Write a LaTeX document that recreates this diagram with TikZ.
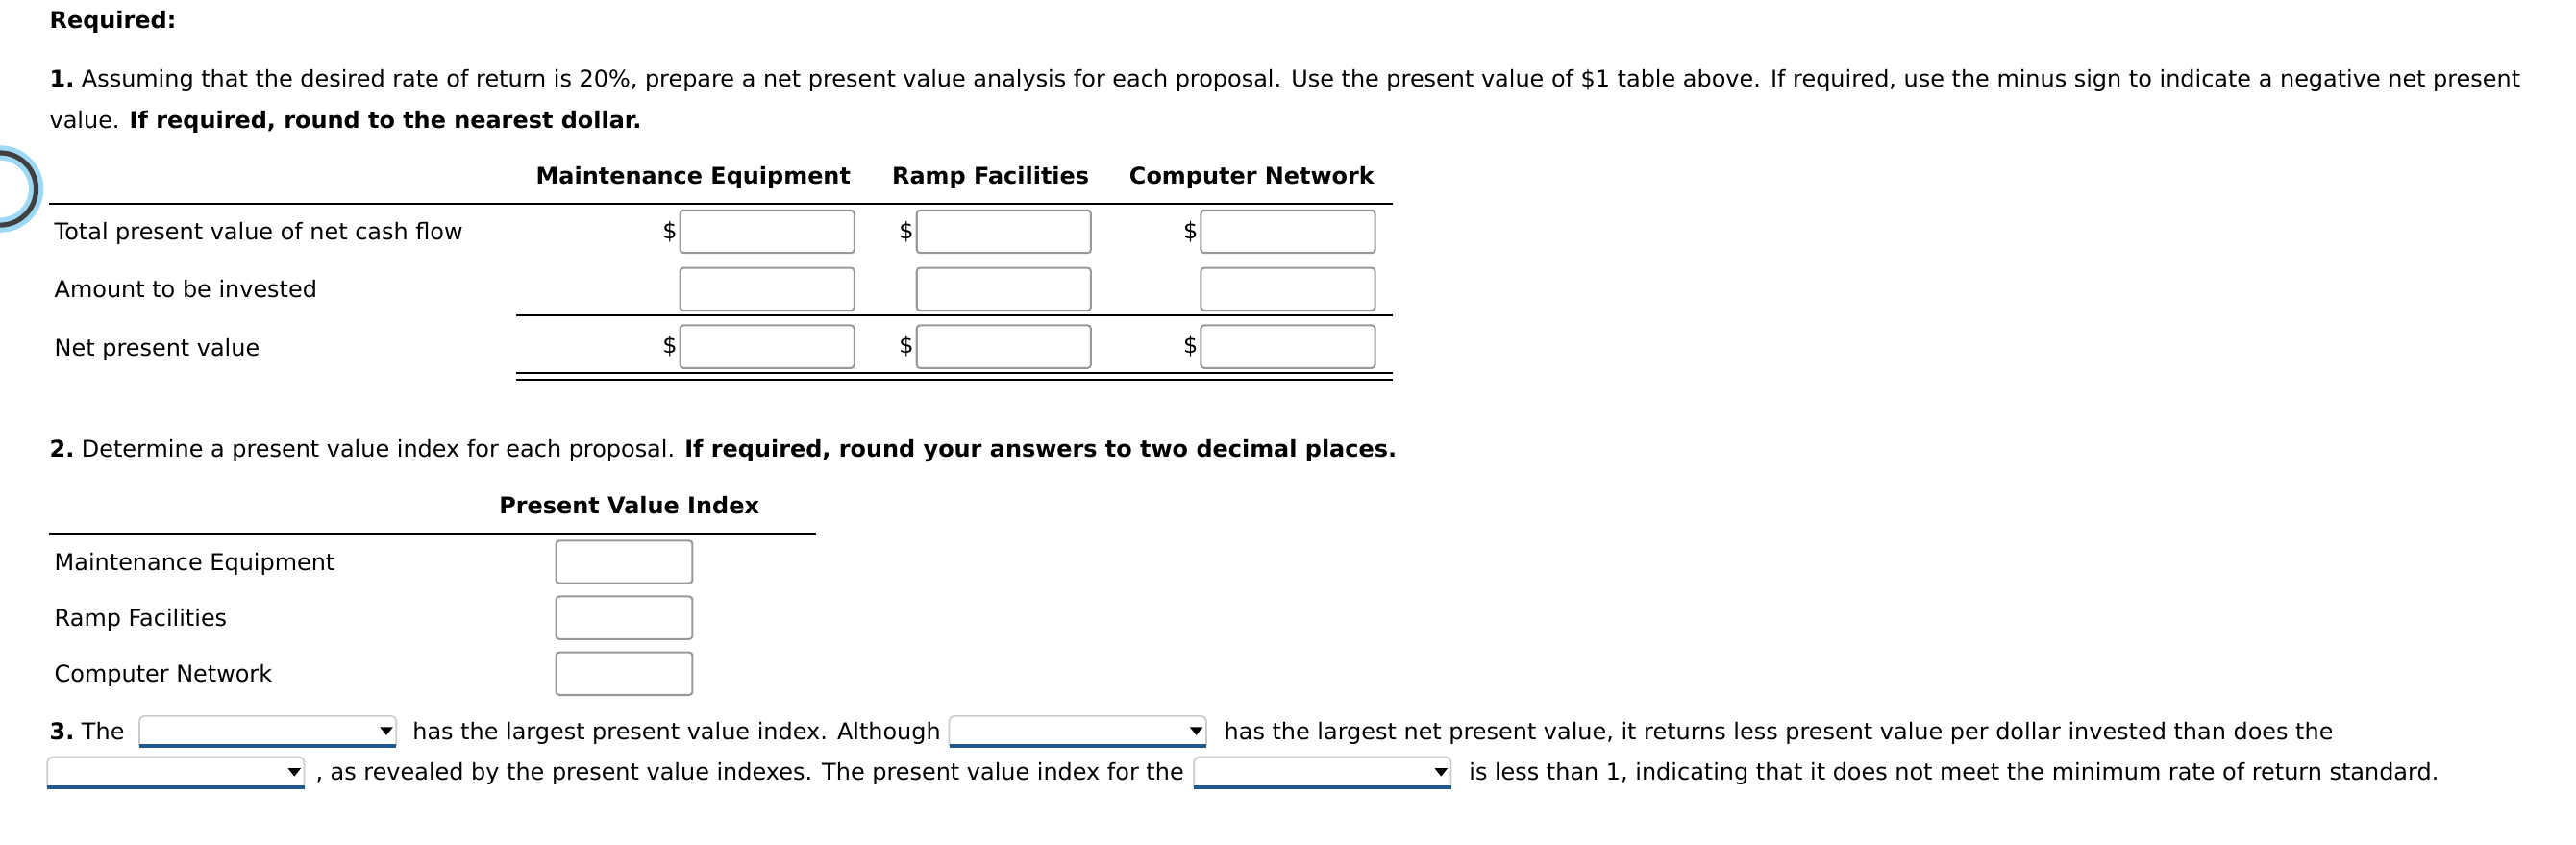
\documentclass[tikz,border=0pt]{standalone}
\usepackage{fontspec}
\setmainfont{DejaVu Sans}
\usetikzlibrary{positioning}
\definecolor{ddblue}{HTML}{1F5A8A}
\definecolor{glow}{HTML}{9FD8F5}
\tikzset{
  txt/.style={anchor=base west, inner sep=0pt, font=\fontsize{14}{17}\selectfont},
  hdr/.style={anchor=base, inner sep=0pt, font=\fontsize{14}{17}\selectfont\bfseries},
  inbox/.style={draw=gray!80, line width=1.2pt, rounded corners=2pt, minimum width=106pt, minimum height=26pt, inner sep=0pt},
  ddbox/.style={minimum width=156pt, minimum height=18pt, inner sep=0pt},
  rule/.style={line width=1.3pt}
}
\begin{document}
\begin{tikzpicture}[x=1pt,y=-1pt]
\useasboundingbox[fill=white] (0,0) rectangle (1568,514);
% circle at the left edge
\draw[glow, line width=9pt] (0,115) circle (22);
\draw[black!75, line width=3pt] (0,115) circle (22);
% part 1
\node[txt, font=\fontsize{14}{17}\selectfont\bfseries] (req) at (30,17) {Required:};
\node[txt] (q1a) at (30,53) {\textbf{1.}\ Assuming that the desired rate of return is 20\%, prepare a net present value analysis for each proposal. Use the present value of \$1 table above. If required, use the minus sign to indicate a negative net present};
\node[txt] (q1b) at (30,78) {value. \textbf{If required, round to the nearest dollar.}};
\node[hdr] (h1) at (422,112) {Maintenance Equipment};
\node[hdr] (h2) at (603,112) {Ramp Facilities};
\node[hdr] (h3) at (762,112) {Computer Network};
\draw[rule] (30,124) -- (848,124);
\foreach \lab/\y in {Total present value of net cash flow/141, Amount to be invested/176, Net present value/212}
  \node[txt] at (33,\y+5) {\lab};
\foreach \x/\c in {467/a, 611/b, 784/c} {
  \foreach \y/\r in {141/1, 176/2, 211/3}
    \node[inbox, minimum width=106pt] (b\c\r) at (\x,\y) {};
  \node[left=0pt of b\c1, inner sep=1pt, font=\fontsize{14}{17}\selectfont] {\$};
  \node[left=0pt of b\c3, inner sep=1pt, font=\fontsize{14}{17}\selectfont] {\$};
}
\draw[rule] (314,192) -- (848,192);
\draw[rule] (314,227) -- (848,227);
\draw[rule] (314,231) -- (848,231);
% part 2
\node[txt] (q2) at (30,278) {\textbf{2.}\ Determine a present value index for each proposal. \textbf{If required, round your answers to two decimal places.}};
\node[hdr] (pvi) at (383,313) {Present Value Index};
\draw[rule] (30,325) -- (497,325);
\foreach \lab/\y/\r in {Maintenance Equipment/342/1, Ramp Facilities/376/2, Computer Network/410/3} {
  \node[txt] at (33,\y+5) {\lab};
  \node[inbox, minimum width=83pt] (p\r) at (380,\y) {};
}
% part 3
\foreach \x/\y/\n in {163/445/d1, 656/445/d2, 107/470/d3, 805/470/d4} {
  \node[ddbox] (\n) at (\x,\y) {};
  \draw[gray!40, line width=1pt, rounded corners=3pt] (\n.south west) -- (\n.north west) -- (\n.north east) -- (\n.south east);
  \draw[ddblue, line width=2.5pt] (\n.south west) -- (\n.south east);
  \fill ([xshift=-10pt,yshift=2.5pt]\n.east) -- ++(8,0) -- ++(-4,5) -- cycle;
}
\node[txt] (q3a) at (30,450) {\textbf{3.}\ The};
\node[txt] (q3b) at (251,450) {has the largest present value index. Although};
\node[txt] (q3c) at (745,450) {has the largest net present value, it returns less present value per dollar invested than does the};
\node[txt] (q3d) at (192,475) {, as revealed by the present value indexes. The present value index for the};
\node[txt] (q3e) at (894,475) {is less than 1, indicating that it does not meet the minimum rate of return standard.};
\end{tikzpicture}
\end{document}
